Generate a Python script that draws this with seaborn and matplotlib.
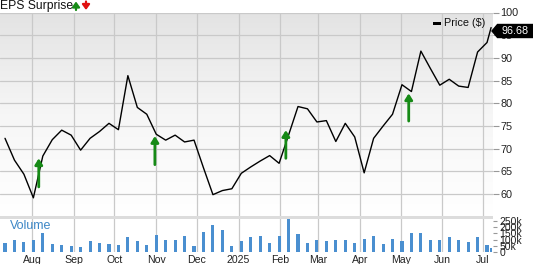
import numpy as np
import pandas as pd
import matplotlib
matplotlib.use("Agg")
import matplotlib.pyplot as plt
import matplotlib.dates as mdates
from matplotlib.patches import Polygon, Rectangle, FancyArrowPatch
from matplotlib.colors import LinearSegmentedColormap
import seaborn as sns

# ---------------- data ----------------
dates = list(pd.date_range("2024-07-12", periods=52, freq="7D")) + [pd.Timestamp("2025-07-07")]
price = [72.3, 67.5, 64.4, 59.2, 68.4, 72.0, 74.1, 73.0, 69.7, 72.3,
         73.8, 75.6, 74.2, 86.1, 79.1, 77.6, 73.2, 71.9, 73.0, 71.5,
         71.9, 65.8, 59.9, 60.8, 61.2, 64.6, 66.0, 67.3, 68.5, 66.8,
         73.0, 79.3, 78.8, 75.9, 76.2, 71.6, 75.6, 72.6, 64.7, 72.3,
         75.0, 77.6, 84.1, 82.6, 91.5, 87.7, 84.0, 85.3, 83.8, 83.5,
         91.3, 93.4, 96.68]
volume = [74, 93, 80, 98, 152, 64, 56, 48, 40, 90,
          74, 61, 56, 122, 85, 59, 136, 98, 98, 125,
          51, 157, 215, 176, 51, 88, 122, 128, 69, 128,
          263, 141, 69, 93, 88, 93, 93, 69, 104, 125,
          64, 101, 85, 149, 149, 98, 98, 122, 98, 80,
          122, 53, 32]  # thousands
eps_dates = ["2024-08-06", "2024-10-31", "2025-02-05", "2025-05-07"]
eps_tip = [67.9, 72.8, 74.1, 82.2]
eps_base = [61.6, 66.5, 67.9, 76.1]
month_ticks = ["2024-08-01", "2024-09-01", "2024-10-01", "2024-11-01", "2024-12-01",
               "2025-01-01", "2025-02-01", "2025-03-01", "2025-04-01", "2025-05-01",
               "2025-06-01", "2025-07-01"]
month_labels = ["Aug", "Sep", "Oct", "Nov", "Dec", "2025", "Feb", "Mar", "Apr", "May", "Jun", "Jul"]
price_ticks = [60, 65, 70, 75, 80, 85, 90, 95, 100]
vol_ticks = [0, 50, 100, 150, 200, 250]
vol_labels = ["0", "50k", "100k", "150k", "200k", "250k"]
last_label = "96.68"

df = pd.DataFrame({"date": dates, "price": price, "volume": np.array(volume) * 1000.0})

# ---------------- figure ----------------
sns.set_style("white")
plt.rcParams["font.family"] = ["Liberation Sans", "DejaVu Sans"]

W, H = 533, 264
fig = plt.figure(figsize=(W / 100, H / 100), dpi=100)

rect_p = [0, 1 - 216 / H, 493 / W, (216 - 12.5) / H]
rect_v = [0, 1 - 252 / H, 493 / W, (252 - 218) / H]

# gradient background of price panel
bg = fig.add_axes(rect_p, zorder=0)
grad = np.linspace(0, 1, 256)[:, None]
cm = LinearSegmentedColormap.from_list("g", ["#e3e3e3", "#f6f6f6", "#ffffff"])
bg.imshow(grad, aspect="auto", cmap=cm, extent=[0, 1, 0, 1])
bg.set_axis_off()

ax = fig.add_axes(rect_p, zorder=1)
ax.patch.set_alpha(0)
axv = fig.add_axes(rect_v, sharex=ax, zorder=1)

xlim = (mdates.date2num(pd.Timestamp("2024-07-08 07:00")),
        mdates.date2num(pd.Timestamp("2025-07-08 10:00")))

grid_c = "#c9c9c9"
mt = [mdates.date2num(pd.Timestamp(d)) for d in month_ticks]

sns.lineplot(data=df, x="date", y="price", ax=ax, color="black", lw=1.0, zorder=3)
ax.set_xlim(*xlim)
ax.set_ylim(55.2, 100)
for v in price_ticks:
    ax.axhline(v, color=grid_c, lw=0.9, zorder=1)
for m in mt:
    ax.axvline(m, color=grid_c, lw=0.9, zorder=1)
    axv.axvline(m, color=grid_c, lw=0.9, zorder=1)

ax.yaxis.tick_right()
ax.set_yticks(price_ticks)
ax.set_yticklabels([str(v) for v in price_ticks])
ax.tick_params(axis="y", length=4, width=0.8, color="#999999", pad=1.5,
               labelsize=7.8, labelcolor="#222222", right=True, left=False)
ax.tick_params(axis="x", bottom=False, labelbottom=False)
ax.set_xlabel("")
ax.set_ylabel("")
for s in ax.spines.values():
    s.set_visible(False)

# EPS arrows
for d, t, b in zip(eps_dates, eps_tip, eps_base):
    xd = mdates.date2num(pd.Timestamp(d))
    ax.annotate("", xy=(xd, t), xytext=(xd, b),
                arrowprops=dict(arrowstyle="-|>,head_length=0.35,head_width=0.22",
                                color="#168a16", lw=2.0, shrinkA=0, shrinkB=0),
                zorder=4)

# volume
xnum = mdates.date2num(df["date"])
widths = [2.3] * (len(xnum) - 1) + [1.6]
axv.bar(xnum, df["volume"], width=widths, color="#4a8fd0", edgecolor="none", zorder=2)
axv.set_xlim(*xlim)
axv.set_ylim(0, 272000)
axv.yaxis.tick_right()
axv.set_yticks([v * 1000 for v in vol_ticks])
axv.set_yticklabels(vol_labels)
axv.tick_params(axis="y", length=3, width=0.8, color="#999999", pad=1.5,
                labelsize=7.5, labelcolor="#222222", right=True, left=False)
axv.set_xticks(mt)
axv.set_xticklabels(month_labels)
axv.tick_params(axis="x", length=0, pad=2, labelsize=7.6, labelcolor="#222222")
for s in axv.spines.values():
    s.set_visible(False)
axv.set_xlabel("")
axv.set_ylabel("")

# separator band between panels
fig.add_artist(Rectangle((0, 1 - 218.5 / H), 493 / W, 3 / H, transform=fig.transFigure,
                         color="#dcdcdc", lw=0, zorder=5))

fig.text(10 / W, 1 - 226 / H, "Volume", color="#3d87c6", fontsize=9, va="center", ha="left")

# title
fig.text(0, 1 - 5.5 / H, "EPS Surprise", fontsize=8.7, va="center", ha="left", color="#111111")
fig.add_artist(FancyArrowPatch((76 / W, 1 - 10 / H), (76 / W, 1 - 1.5 / H),
               transform=fig.transFigure, arrowstyle="-|>,head_length=0.3,head_width=0.22",
               mutation_scale=10, color="#168a16", lw=1.6, shrinkA=0, shrinkB=0))
fig.add_artist(FancyArrowPatch((86 / W, 1 - 1.5 / H), (86 / W, 1 - 10 / H),
               transform=fig.transFigure, arrowstyle="-|>,head_length=0.3,head_width=0.22",
               mutation_scale=10, color="#e01010", lw=1.6, shrinkA=0, shrinkB=0))

# legend
fig.add_artist(Rectangle((433 / W, 1 - 25 / H), 8 / W, 3 / H, transform=fig.transFigure,
                         color="black", lw=0, zorder=6))
fig.text(444 / W, 1 - 23.5 / H, "Price ($)", fontsize=7.8, va="center", ha="left", color="#111111")

# last price tag
yc = 1 - 31 / H
hh = 6.5 / H
poly = Polygon([(492 / W, yc), (497.5 / W, yc + hh), (533 / W, yc + hh),
                (533 / W, yc - hh), (497.5 / W, yc - hh)], closed=True,
               transform=fig.transFigure, color="black", zorder=7)
fig.add_artist(poly)
fig.text(515 / W, yc, last_label, color="white", fontsize=7.8, va="center", ha="center", zorder=8)

fig.savefig("out.png", dpi=100)
